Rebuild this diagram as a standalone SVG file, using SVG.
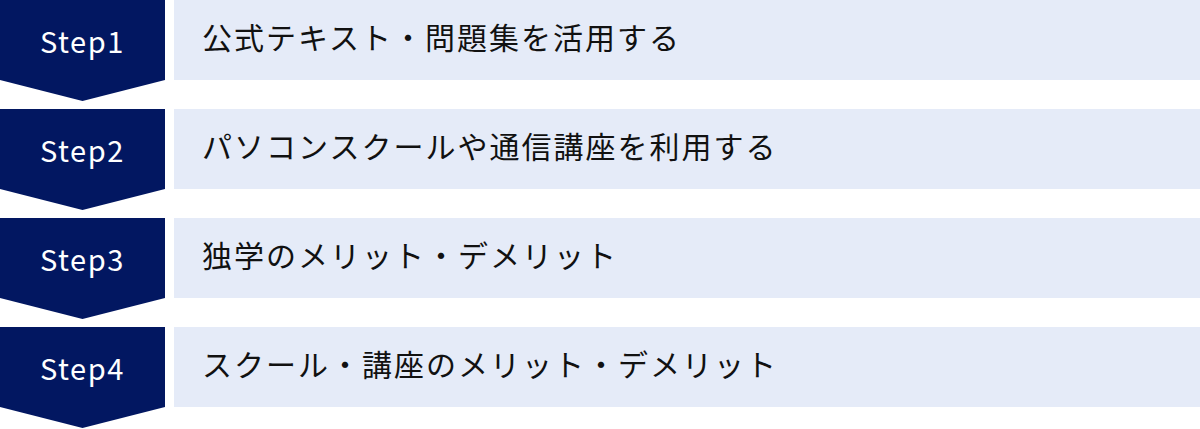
<svg xmlns="http://www.w3.org/2000/svg" width="1200" height="429" viewBox="0 0 1200 429">
<style>
.step{fill:#021761}
.bar{fill:#e5ebf8}
.lbl{font-family:"Noto Sans CJK JP","Noto Sans",sans-serif;font-size:29px;fill:#ffffff;text-anchor:middle;letter-spacing:1.6px}
.txt{font-family:"Noto Sans CJK JP","Noto Sans",sans-serif;font-size:30px;fill:#111111;letter-spacing:2px}
</style>
<g id="connectors"></g>
<g id="step1">
<path class="step" d="M0,0H165V80L82.5,101L0,80Z"/>
<rect class="bar" x="174" y="0" width="1026" height="80"/>
<text class="lbl" x="82.5" y="53">Step1</text>
<text class="txt" x="202" y="49">公式テキスト・問題集を活用する</text>
</g>
<g id="step2">
<path class="step" d="M0,109H165V189L82.5,210L0,189Z"/>
<rect class="bar" x="174" y="109" width="1026" height="80"/>
<text class="lbl" x="82.5" y="162">Step2</text>
<text class="txt" x="202" y="158">パソコンスクールや通信講座を利用する</text>
</g>
<g id="step3">
<path class="step" d="M0,218H165V298L82.5,319L0,298Z"/>
<rect class="bar" x="174" y="218" width="1026" height="80"/>
<text class="lbl" x="82.5" y="271">Step3</text>
<text class="txt" x="202" y="267">独学のメリット・デメリット</text>
</g>
<g id="step4">
<path class="step" d="M0,327H165V407L82.5,428L0,407Z"/>
<rect class="bar" x="174" y="327" width="1026" height="80"/>
<text class="lbl" x="82.5" y="380">Step4</text>
<text class="txt" x="202" y="376">スクール・講座のメリット・デメリット</text>
</g>
</svg>
